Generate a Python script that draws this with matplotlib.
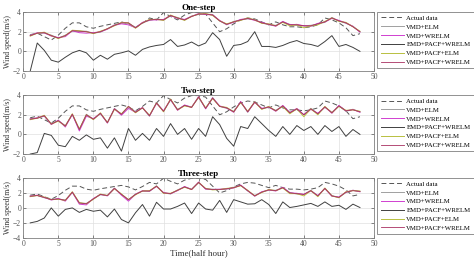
import numpy as np
import matplotlib.pyplot as plt

plt.rcParams["font.family"] = ["Liberation Serif", "DejaVu Serif"]

t = np.arange(1, 49)

actual = [1.7, 1.85, 1.5, 1.15, 1.65, 2.35, 2.9, 2.9, 2.5, 2.35, 2.55, 2.7, 2.85, 3.0, 2.8, 2.4,
          2.85, 3.4, 3.2, 3.95, 3.55, 3.2, 3.7, 3.95, 3.95, 3.8, 2.9, 2.0, 2.3, 2.8, 3.2, 3.4,
          3.3, 3.0, 2.7, 3.0, 2.7, 2.5, 2.5, 2.4, 2.5, 2.7, 3.4, 3.2, 2.9, 2.4, 1.6, 1.8]

# one-step
p1_base = [1.6, 1.85, 1.9, 1.6, 1.35, 1.6, 2.1, 2.05, 2.0, 1.85, 2.0, 2.3, 2.65, 2.9, 2.9, 2.4,
           2.9, 3.2, 3.25, 3.2, 3.65, 3.4, 3.2, 3.55, 3.8, 3.8, 3.7, 3.1, 2.75, 3.0, 3.2, 3.35,
           3.2, 2.9, 2.75, 2.6, 3.0, 2.7, 2.7, 2.6, 2.6, 2.8, 3.0, 3.4, 3.1, 2.9, 2.5, 2.0]
p1_emd = [-2.0, 0.85, 0.1, -0.9, -1.1, -0.6, -0.15, 0.1, -0.15, -0.9, -0.4, -0.8, -0.3, -0.15, 0.05, -0.4,
          0.2, 0.45, 0.6, 0.7, 1.2, 0.5, 0.65, 0.95, 0.55, 0.85, 1.9, 1.2, -0.5, 0.6, 0.7, 1.0,
          2.0, 0.5, 0.5, 0.4, 0.6, 0.9, 1.1, 0.8, 0.7, 0.5, 1.0, 1.6, 0.5, 0.7, 0.4, 0.0]

# two-step
p2_base = [1.55, 1.65, 1.9, 1.05, 1.4, 0.85, 2.05, 0.5, 2.0, 1.55, 2.15, 1.2, 2.6, 2.05, 2.85, 2.25,
           2.7, 1.9, 3.2, 2.35, 3.55, 2.5, 2.95, 2.75, 3.8, 2.65, 3.7, 2.85, 2.7, 2.3, 3.3, 2.3,
           3.3, 2.6, 2.8, 2.4, 2.9, 2.2, 2.6, 2.0, 2.6, 2.1, 2.8, 2.2, 2.9, 2.4, 2.5, 2.3]
p2_emd = [-2.0, -1.85, 0.1, -0.1, -1.1, -1.25, -0.2, -0.6, -0.05, -0.5, -0.35, -1.4, -0.35, -1.7, 0.6, -0.6,
          0.1, -0.6, 0.6, -0.2, 1.1, 0.0, 0.6, -0.5, 0.6, -0.2, 1.8, 1.0, -0.4, -1.2, 0.8, 0.6,
          1.8, 1.1, 0.4, -0.2, 0.8, 0.0, 0.9, 0.4, 0.8, 0.0, 0.9, 0.3, 0.8, -0.2, 0.5, 0.0]

# three-step
p3_base = [1.55, 1.65, 1.4, 1.1, 1.2, 1.0, 2.1, 0.65, 0.55, 1.2, 1.8, 1.65, 2.6, 1.8, 1.1, 1.8,
           2.25, 2.25, 2.9, 2.0, 1.9, 2.35, 2.8, 2.45, 3.4, 2.55, 2.45, 2.45, 2.55, 2.7, 3.0, 2.3,
           1.6, 2.1, 2.4, 2.3, 2.7, 2.0, 1.9, 1.8, 2.3, 1.6, 2.6, 1.6, 1.4, 2.1, 2.3, 2.2]
p3_emd = [-2.0, -1.8, -1.35, 0.0, -1.1, -0.2, 0.0, -0.6, -0.2, -0.45, -0.3, -1.2, -0.15, -1.55, -2.0, -0.65,
          0.45, -1.1, 0.75, -0.15, -0.15, 0.2, 0.65, -0.75, 0.65, -0.15, -0.3, 1.0, -0.6, 1.1, 0.8, 0.5,
          0.55, 1.1, 0.45, -0.75, 0.8, 0.05, 0.2, 0.4, 0.6, 0.2, 0.8, 0.2, 0.35, -0.2, 0.5, 0.05]

# small offsets of the individual VMD models around the shared curve
off_elm = [0.05, 0.0, -0.05, 0.05, 0.0, 0.05, -0.05, 0.0, 0.05, 0.0, -0.05, 0.0, 0.05, 0.0, -0.05, 0.05,
           0.0, -0.05, 0.05, 0.0, -0.05, 0.05, 0.0, 0.05, -0.05, 0.0, 0.05, 0.0, -0.05, 0.05, 0.0, -0.05,
           0.05, 0.0, -0.05, 0.05, 0.0, 0.05, -0.05, 0.0, 0.05, 0.0, -0.05, 0.05, 0.0, -0.05, 0.05, 0.0]
off_wrelm = [0.0, 0.05, 0.0, -0.05, 0.05, -0.1, 0.0, -0.15, -0.15, 0.05, 0.0, -0.05, 0.0, -0.1, -0.2, 0.0,
             0.05, 0.0, -0.05, 0.05, 0.0, -0.05, 0.05, 0.0, 0.05, -0.05, 0.0, 0.05, 0.0, -0.05, 0.05, 0.0,
             -0.05, 0.05, 0.0, -0.05, 0.05, 0.0, 0.05, 0.0, -0.05, 0.05, 0.0, -0.05, 0.05, 0.0, 0.05, -0.05]
off_pelm = [-0.05, 0.0, 0.05, 0.0, -0.05, 0.0, 0.05, 0.05, 0.0, -0.05, 0.05, 0.0, -0.05, 0.05, 0.0, -0.05,
            0.0, 0.05, 0.0, -0.05, 0.05, 0.0, -0.05, 0.0, 0.0, 0.05, -0.05, 0.0, 0.05, 0.0, -0.05, 0.05,
            0.0, -0.05, 0.05, 0.0, -0.05, -0.1, 0.0, -0.2, 0.0, -0.1, 0.05, 0.0, -0.05, 0.05, 0.0, 0.05]

titles = ["One-step", "Two-step", "Three-step"]
labels = ["Actual data", "VMD+ELM", "VMD+WRELM", "EMD+PACF+WRELM", "VMD+PACF+ELM", "VMD+PACF+WRELM"]
panels = [(p1_base, p1_emd), (p2_base, p2_emd), (p3_base, p3_emd)]
ylims = [(-2, 4), (-2, 4), (-4, 4)]

fig = plt.figure(figsize=(4.74, 2.62), dpi=100)
rects = [[0.049, 0.729, 0.74, 0.225], [0.049, 0.412, 0.74, 0.225], [0.049, 0.092, 0.74, 0.229]]

for i, (base, emd) in enumerate(panels):
    ax = fig.add_axes(rects[i])
    base = np.array(base)
    ax.plot(t, actual, color="#555555", linestyle=(0, (5, 3)), linewidth=0.7, label=labels[0])
    ax.plot(t, base + np.array(off_elm), color="#a0a0a0", linewidth=0.7, label=labels[1])
    ax.plot(t, base + np.array(off_wrelm), color="#d040d0", linewidth=0.7, label=labels[2])
    ax.plot(t, emd, color="#404040", linewidth=0.7, label=labels[3])
    ax.plot(t, base + np.array(off_pelm), color="#b8c040", linewidth=0.7, label=labels[4])
    ax.plot(t, base, color="#a83060", linewidth=0.6, label=labels[5])
    ax.set_xlim(0, 50)
    ax.set_ylim(*ylims[i])
    ax.set_xticks(range(0, 51, 5))
    ax.set_yticks(range(ylims[i][0], ylims[i][1] + 1, 2))
    ax.grid(True, color="#e0e0e0", linewidth=0.5)
    ax.tick_params(direction="in", length=2, width=0.5, labelsize=5.5, colors="#555555",
                   top=True, right=True, pad=1.5)
    for s in ax.spines.values():
        s.set_color("#808080")
        s.set_linewidth(0.6)
    ax.set_ylabel("Wind speed(m/s)", fontsize=5.6, color="#333333", labelpad=1)
    ax.set_title(titles[i], fontsize=6.5, fontweight="bold", pad=1.5)
    leg = ax.legend(loc="upper left", bbox_to_anchor=(1.01, 1.0), fontsize=4.9,
                    handlelength=3.4, fancybox=False, framealpha=1, edgecolor="#808080",
                    borderpad=0.45, labelspacing=0.45, handletextpad=0.4, borderaxespad=0)
    leg.get_frame().set_linewidth(0.6)
    if i == 2:
        ax.set_xlabel("Time(half hour)", fontsize=6.5, color="#333333", labelpad=1)

fig.savefig("out.png", dpi=100)
